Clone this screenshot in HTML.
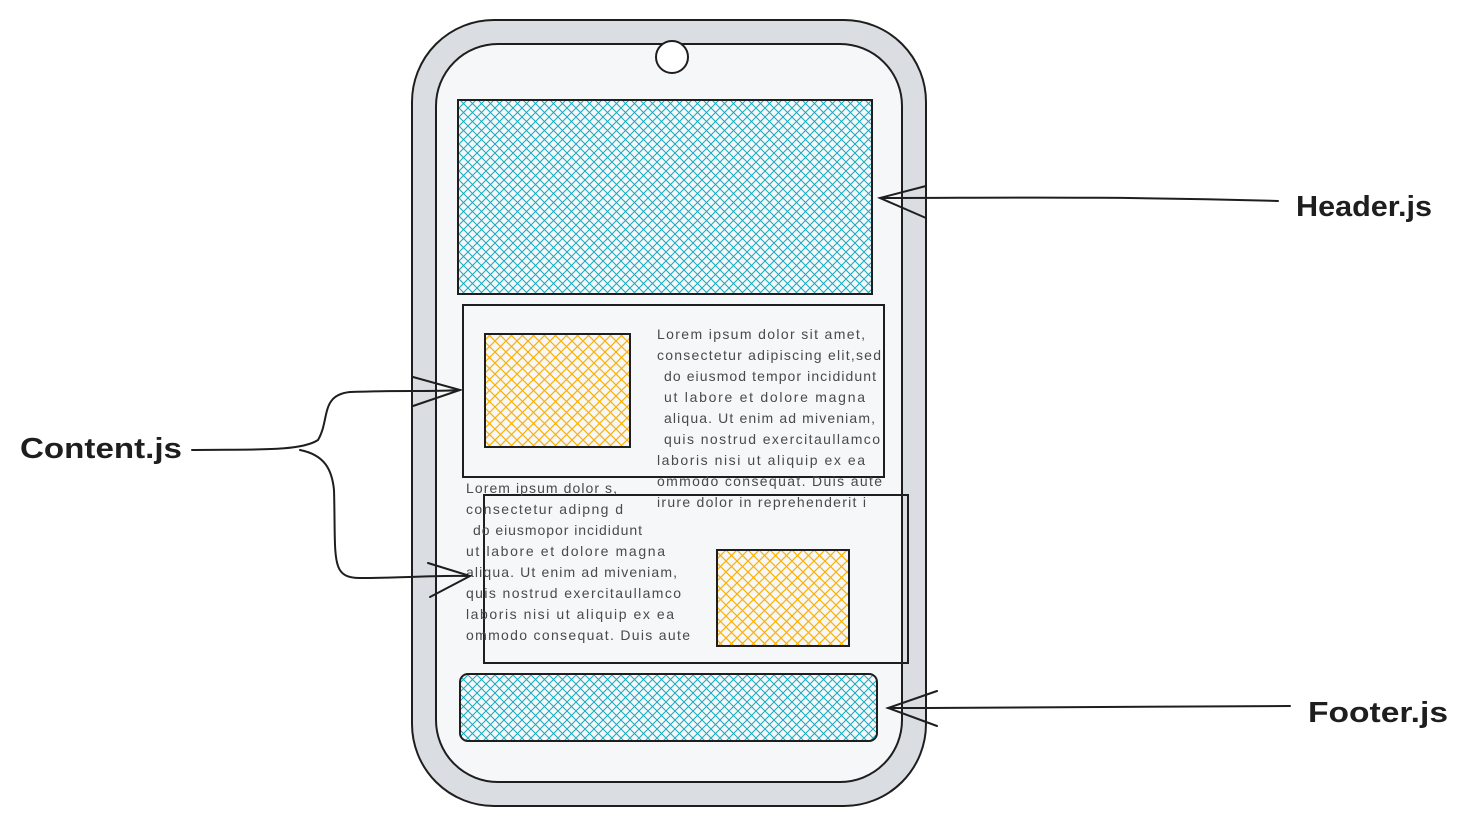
<!DOCTYPE html>
<html><head><meta charset="utf-8"><style>
html,body{margin:0;padding:0;background:#fff;}
svg{display:block}
text{font-family:"Liberation Sans",sans-serif;}
.t{font-size:14px;fill:#4a4a4a;}
.lbl{font-size:29px;fill:#1e1e1e;font-weight:bold;}
</style></head><body>
<svg width="1470" height="826" viewBox="0 0 1470 826" xmlns="http://www.w3.org/2000/svg">
<defs>
<pattern id="hc" width="9" height="9" patternUnits="userSpaceOnUse">
<path d="M0 0L9 9M9 0L0 9" stroke="#15aabf" stroke-width="1"/>
</pattern>
<pattern id="ho" width="11" height="11" patternUnits="userSpaceOnUse">
<path d="M0 0L11 11M11 0L0 11" stroke="#fab005" stroke-width="1.2"/>
</pattern>
</defs>
<rect x="412" y="20" width="514" height="786" rx="82" fill="#dadde1" stroke="#1e1e1e" stroke-width="2"/>
<rect x="436" y="44" width="466" height="738" rx="62" fill="#f6f7f9" stroke="#1e1e1e" stroke-width="2"/>
<circle cx="672" cy="57" r="16" fill="#fff" stroke="#1e1e1e" stroke-width="2"/>
<rect x="458" y="100" width="414" height="194" fill="url(#hc)" stroke="#1e1e1e" stroke-width="2"/>
<rect x="463" y="305" width="421" height="172" fill="none" stroke="#1e1e1e" stroke-width="2"/>
<rect x="485" y="334" width="145" height="113" fill="url(#ho)" stroke="#1e1e1e" stroke-width="2"/>
<rect x="484" y="495" width="424" height="168" fill="none" stroke="#1e1e1e" stroke-width="2"/>
<rect x="717" y="550" width="132" height="96" fill="url(#ho)" stroke="#1e1e1e" stroke-width="2"/>
<rect x="460" y="674" width="417" height="67" rx="8" fill="url(#hc)" stroke="#1e1e1e" stroke-width="2"/>
<g class="t" lengthAdjust="spacing">
<text x="657" y="339" textLength="208">Lorem ipsum dolor sit amet,</text>
<text x="657" y="360" textLength="224">consectetur adipiscing elit,sed</text>
<text x="664" y="381" textLength="212">do eiusmod tempor incididunt</text>
<text x="664" y="402" textLength="201">ut labore et dolore magna</text>
<text x="664" y="423" textLength="211">aliqua. Ut enim ad miveniam,</text>
<text x="664" y="444" textLength="216">quis nostrud exercitaullamco</text>
<text x="657" y="465" textLength="208">laboris nisi ut aliquip ex ea</text>
<text x="657" y="486" textLength="225">ommodo consequat. Duis aute</text>
<text x="657" y="507" textLength="209">irure dolor in reprehenderit i</text>
<text x="466" y="493" textLength="151">Lorem ipsum dolor s,</text>
<text x="466" y="514" textLength="157">consectetur adipng d</text>
<text x="473" y="535" textLength="169">do eiusmopor incididunt</text>
<text x="466" y="556" textLength="199">ut labore et dolore magna</text>
<text x="466" y="577" textLength="211">aliqua. Ut enim ad miveniam,</text>
<text x="466" y="598" textLength="215">quis nostrud exercitaullamco</text>
<text x="466" y="619" textLength="208">laboris nisi ut aliquip ex ea</text>
<text x="466" y="640" textLength="224">ommodo consequat. Duis aute</text>
</g>
<g fill="none" stroke="#1e1e1e" stroke-width="2" stroke-linecap="round">
<path d="M1278 201 C1100 196 1000 198 880 198"/>
<path d="M926 186 L880 198 L926 218"/>
<path d="M1290 706 C1100 708 1000 708 888 708"/>
<path d="M937 691 L888 708 L937 726"/>
<path d="M192 450 C250 449 300 452 318 440 C330 420 320 395 350 392 C400 390 430 392 460 390"/>
<path d="M413 377 L460 390 L413 406"/>
<path d="M300 450 C325 455 332 470 334 490 C336 560 330 578 360 578 C400 578 440 575 470 576"/>
<path d="M428 563 L470 576 L430 597"/>
</g>
<text class="lbl" x="1296" y="216" textLength="136" lengthAdjust="spacingAndGlyphs">Header.js</text>
<text class="lbl" x="20" y="458" textLength="162" lengthAdjust="spacingAndGlyphs">Content.js</text>
<text class="lbl" x="1308" y="722" textLength="140" lengthAdjust="spacingAndGlyphs">Footer.js</text>
</svg>
</body></html>
